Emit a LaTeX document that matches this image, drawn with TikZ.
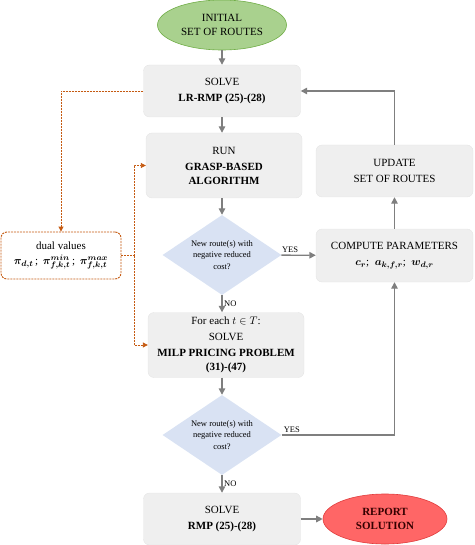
\documentclass[tikz,border=0pt]{standalone}
\usepackage{fontspec}
\setmainfont{Liberation Serif}
\usepackage{amsmath,bm}
\usetikzlibrary{shapes.geometric}
\usetikzlibrary{arrows.meta}

\definecolor{boxgray}{HTML}{EFEFEF}
\definecolor{linegray}{HTML}{7F7F7F}
\definecolor{dualorange}{HTML}{C55A11}
\definecolor{startgreen}{HTML}{A9D18E}
\definecolor{startline}{HTML}{70AD47}
\definecolor{endred}{HTML}{FF6666}
\definecolor{endline}{HTML}{E03C3C}
\definecolor{choiceblue}{HTML}{D9E2F3}

\begin{document}
\begin{tikzpicture}[x=1pt,y=-1pt,
  stepbox/.style={rectangle,rounded corners=6pt,fill=boxgray,draw=gray!20,thin,align=center,inner sep=2pt,font=\fontsize{11}{16}\selectfont},
  choice/.style={diamond,aspect=1.5,inner sep=0pt,fill=choiceblue,align=center,minimum width=119pt,minimum height=80pt,font=\fontsize{8.5}{11.5}\selectfont},
  terminal/.style={ellipse,align=center,inner sep=0pt,line width=0.6pt,font=\fontsize{11}{14}\selectfont},
  flow/.style={draw=linegray,line width=1.4pt,-{Triangle[length=6.5pt,width=6.5pt]}},
  dualflow/.style={draw=dualorange,dash pattern=on 2pt off 1pt,line width=0.9pt,-{Triangle[length=5pt,width=5pt]}},
  dualline/.style={draw=dualorange,dash pattern=on 2pt off 1pt,line width=0.9pt},
  edgelabel/.style={font=\fontsize{8.5}{10}\selectfont,inner sep=1.5pt}]
\useasboundingbox (0,0) rectangle (474,545);

\node[terminal,fill=startgreen,draw=startline,minimum width=129pt,minimum height=50pt] (start) at (222,25) {INITIAL\\SET OF ROUTES};
\node[stepbox,minimum width=157pt,minimum height=52pt] (lrrmp) at (222,91) {SOLVE\\\textbf{LR-RMP (25)-(28)}};
\node[stepbox,minimum width=156pt,minimum height=65pt] (grasp) at (224,165.5) {RUN\\\textbf{GRASP-BASED}\\[-2pt]\textbf{ALGORITHM}};
\node[choice] (check1) at (222,255) {New route(s) with\\negative reduced\\cost?};
\node[stepbox,minimum width=156pt,minimum height=65pt] (pricing) at (226,345) {For each $t \in T$:\\SOLVE\\\textbf{MILP PRICING PROBLEM}\\[-2pt]\textbf{(31)-(47)}};
\node[choice] (check2) at (222,435) {New route(s) with\\negative reduced\\cost?};
\node[stepbox,minimum width=157pt,minimum height=52pt] (rmp) at (222,519) {SOLVE\\\textbf{RMP (25)-(28)}};
\node[terminal,fill=endred,draw=endline,minimum width=124pt,minimum height=50pt,text=black!80!red] (report) at (385,519) {\textbf{REPORT}\\\textbf{SOLUTION}};
\node[stepbox,minimum width=157pt,minimum height=52pt] (update) at (394.5,171) {UPDATE\\SET OF ROUTES};
\node[stepbox,minimum width=157pt,minimum height=53pt] (params) at (394.5,255.5) {COMPUTE PARAMETERS\\$\bm{c_r}$;~ $\bm{a_{k,f,r}}$;~ $\bm{w_{d,r}}$};
\node[rectangle,rounded corners=6pt,draw=dualorange,dash pattern=on 2pt off 1pt,line width=0.9pt,fill=white,align=center,minimum width=120pt,minimum height=47pt,font=\fontsize{11}{15}\selectfont] (dual) at (61,255.5) {dual values\\$\bm{\pi_{d,t}}$\,;\, $\bm{\pi^{min}_{f,k,t}}$\,;\, $\bm{\pi^{max}_{f,k,t}}$};
\coordinate (split) at (134,255.5);

\draw[flow] (start) -- (lrrmp);
\draw[flow] (lrrmp) -- (lrrmp.south |- grasp.north);
\draw[flow] (lrrmp.south |- grasp.south) -- (check1);
\draw[flow] (check1) -- node[edgelabel,right]{NO} (check1.south |- pricing.north);
\draw[flow] (check1) -- node[edgelabel,above,pos=0.25]{YES} (params);
\draw[flow] (params) -- (update);
\draw[flow] (update.north) |- (lrrmp.east);
\draw[flow] (check1.south |- pricing.south) -- (check2);
\draw[flow] (check2) -- node[edgelabel,right]{NO} (rmp);
\draw[flow] (check2.east) -| node[edgelabel,above,pos=0.045]{YES} (params.south);
\draw[flow] (rmp) -- (report);

\draw[dualflow] (lrrmp.west) -| (dual.north);
\draw[dualline] (dual.east) -- (split);
\draw[dualflow] (split) |- (grasp.west);
\draw[dualflow] (split) |- (pricing.west);

\end{tikzpicture}
\end{document}
